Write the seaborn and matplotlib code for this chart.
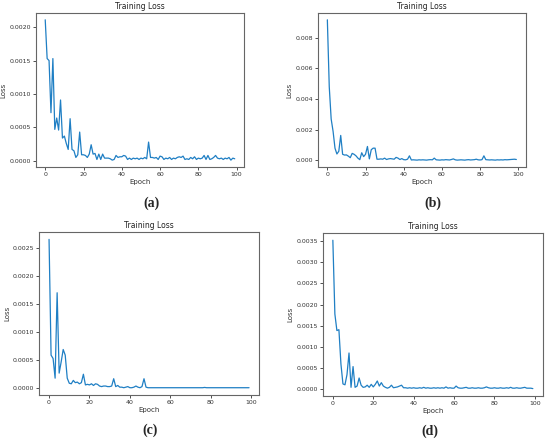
import matplotlib
matplotlib.use("Agg")
import matplotlib.pyplot as plt
import seaborn as sns
import numpy as np

epochs = list(range(100))

loss_a = [0.00211, 0.00153, 0.00150, 0.00072, 0.00153, 0.00047, 0.00064, 0.00046, 0.00091, 0.00034,
          0.00037, 0.00026, 0.00017, 0.00063, 0.00017, 0.00015, 0.00005, 0.00009, 0.00043, 0.00009,
          0.00009, 0.00008, 0.00005, 0.00010, 0.00024, 0.00010, 0.00011, 0.00002, 0.00010, 0.00002,
          0.00010, 0.00004, 0.00004, 0.00004, 0.00003, 0.00001, 0.00002, 0.00008, 0.00005, 0.00006,
          0.00006, 0.00008, 0.00007, 0.00002, 0.00004, 0.00002, 0.00004, 0.00003, 0.00004, 0.00002,
          0.00004, 0.00003, 0.00005, 0.00003, 0.00028, 0.00005, 0.00005, 0.00004, 0.00005, 0.00002,
          0.00007, 0.00006, 0.00002, 0.00004, 0.00003, 0.00005, 0.00002, 0.00004, 0.00003, 0.00005,
          0.00006, 0.00005, 0.00007, 0.00002, 0.00003, 0.00002, 0.00005, 0.00003, 0.00006, 0.00002,
          0.00004, 0.00003, 0.00004, 0.00008, 0.00002, 0.00008, 0.00002, 0.00003, 0.00005, 0.00008,
          0.00004, 0.00003, 0.00004, 0.00002, 0.00004, 0.00003, 0.00005, 0.00001, 0.00004, 0.00003]

loss_b = [0.00917, 0.00480, 0.00270, 0.00190, 0.00080, 0.00042, 0.00060, 0.00163, 0.00040, 0.00035,
          0.00036, 0.00028, 0.00018, 0.00046, 0.00040, 0.00030, 0.00015, 0.00005, 0.00050, 0.00025,
          0.00040, 0.00091, 0.00010, 0.00070, 0.00080, 0.00080, 0.00008, 0.00008, 0.00010, 0.00008,
          0.00015, 0.00006, 0.00010, 0.00012, 0.00010, 0.00008, 0.00020, 0.00015, 0.00006, 0.00012,
          0.00005, 0.00004, 0.00008, 0.00030, 0.00003, 0.00004, 0.00003, 0.00002, 0.00004, 0.00003,
          0.00004, 0.00003, 0.00002, 0.00004, 0.00005, 0.00004, 0.00015, 0.00004, 0.00003, 0.00002,
          0.00004, 0.00003, 0.00005, 0.00004, 0.00003, 0.00006, 0.00010, 0.00004, 0.00002, 0.00003,
          0.00004, 0.00003, 0.00002, 0.00004, 0.00005, 0.00003, 0.00004, 0.00005, 0.00008, 0.00004,
          0.00003, 0.00005, 0.00030, 0.00005, 0.00004, 0.00003, 0.00004, 0.00003, 0.00002, 0.00004,
          0.00003, 0.00004, 0.00003, 0.00005, 0.00004, 0.00005, 0.00006, 0.00007, 0.00008, 0.00006]

loss_c = [0.00265, 0.00059, 0.00053, 0.00018, 0.00170, 0.00027, 0.00047, 0.00069, 0.00059, 0.00018,
          0.00009, 0.00008, 0.00014, 0.00010, 0.00011, 0.00008, 0.00010, 0.00025, 0.00006, 0.00007,
          0.00006, 0.00008, 0.00005, 0.00008, 0.00007, 0.00004, 0.00003, 0.00004, 0.00004, 0.00003,
          0.00003, 0.00004, 0.00017, 0.00003, 0.00005, 0.00002, 0.00002, 0.00001, 0.00002, 0.00003,
          0.00001, 0.00001, 0.00002, 0.00004, 0.00002, 0.00001, 0.00003, 0.00017, 0.00002, 0.00001,
          0.00001, 0.00001, 0.00001, 0.00001, 0.00001, 0.00001, 0.00001, 0.00001, 0.00001, 0.00001,
          0.00001, 0.00001, 0.00001, 0.00001, 0.00001, 0.00001, 0.00001, 0.00001, 0.00001, 0.00001,
          0.00001, 0.00001, 0.00001, 0.00001, 0.00001, 0.00001, 0.00001, 0.000015, 0.00001, 0.00001,
          0.00001, 0.00001, 0.00001, 0.00001, 0.00001, 0.00001, 0.00001, 0.00001, 0.00001, 0.00001,
          0.00001, 0.00001, 0.00001, 0.00001, 0.00001, 0.00001, 0.00001, 0.00001, 0.00001, 0.00001]

loss_d = [0.00352, 0.00178, 0.00139, 0.00141, 0.00060, 0.00013, 0.00011, 0.00035, 0.00086, 0.00005,
          0.00054, 0.00005, 0.00008, 0.00027, 0.00010, 0.00005, 0.00006, 0.00010, 0.00005, 0.00012,
          0.00006, 0.00012, 0.00020, 0.00008, 0.00016, 0.00008, 0.00005, 0.00003, 0.00005, 0.00010,
          0.00004, 0.00005, 0.00006, 0.00008, 0.00010, 0.00004, 0.00004, 0.00003, 0.00004, 0.00003,
          0.00004, 0.00003, 0.00003, 0.00004, 0.00003, 0.00005, 0.00003, 0.00004, 0.00003, 0.00003,
          0.00004, 0.00003, 0.00004, 0.00003, 0.00004, 0.00003, 0.00006, 0.00003, 0.00004, 0.00003,
          0.00003, 0.00008, 0.00004, 0.00003, 0.00003, 0.00004, 0.00005, 0.00003, 0.00003, 0.00004,
          0.00003, 0.00003, 0.00004, 0.00003, 0.00003, 0.00004, 0.00006, 0.00004, 0.00003, 0.00003,
          0.00004, 0.00003, 0.00003, 0.00004, 0.00003, 0.00003, 0.00004, 0.00003, 0.00005, 0.00003,
          0.00003, 0.00004, 0.00003, 0.00003, 0.00004, 0.00005, 0.00003, 0.00003, 0.00003, 0.00002]

panels = [
    ("(a)", loss_a, [0.065, 0.621, 0.379, 0.350], (0.276, 0.540)),
    ("(b)", loss_b, [0.578, 0.621, 0.378, 0.350], (0.787, 0.540)),
    ("(c)", loss_c, [0.071, 0.104, 0.400, 0.370], (0.272, 0.025)),
    ("(d)", loss_d, [0.587, 0.102, 0.400, 0.370], (0.782, 0.023)),
]

sns.set_style("ticks")
plt.rcParams['font.family'] = ['DejaVu Sans']
plt.rcParams['axes.edgecolor'] = '#555555'
plt.rcParams['axes.linewidth'] = 0.8

fig = plt.figure(figsize=(5.5, 4.41), dpi=100)
fig.patch.set_facecolor('white')

for label, vals, rect, cap in panels:
    ax = fig.add_axes(rect)
    sns.lineplot(x=epochs, y=vals, ax=ax, color='#1f7fc4', linewidth=0.9)
    ax.set_title("Training Loss", fontsize=5.5, color='#222222', pad=2.5)
    ax.set_xlabel("Epoch", fontsize=5, color='#333333', labelpad=1.5)
    ax.set_ylabel("Loss", fontsize=5, color='#333333', labelpad=2)
    ax.set_xticks([0, 20, 40, 60, 80, 100])
    ax.tick_params(axis='both', labelsize=4.5, length=2, width=0.6, pad=1.5,
                   colors='#333333')
    for s in ax.spines.values():
        s.set_visible(True)
        s.set_color('#666666')
        s.set_linewidth(0.8)
    fig.text(cap[0], cap[1], label, ha='center', va='center', fontsize=10,
             fontweight='bold', family=['Liberation Serif', 'DejaVu Serif'])

fig.savefig("out.png", dpi=100, facecolor='white')
